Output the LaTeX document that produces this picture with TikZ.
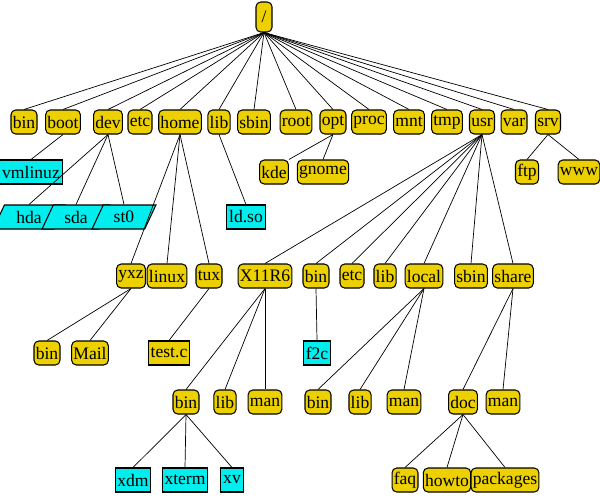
\documentclass[tikz,border=0pt]{standalone}
\usepackage{fontspec}
\setmainfont{Liberation Serif}
\usetikzlibrary{shapes.geometric, positioning}
\tikzset{
    dir/.style={rectangle, rounded corners=4pt, draw=black, line width=0.9pt, fill=dirfill, minimum height=0.72cm, inner xsep=1.5pt, inner ysep=0pt, font=\fontsize{15}{15}\selectfont},
    file/.style={rectangle, draw=black, line width=0.9pt, fill=filefill, minimum height=0.72cm, inner xsep=2pt, inner ysep=0pt, font=\fontsize{15}{15}\selectfont},
    dev/.style={trapezium, trapezium left angle=65, trapezium right angle=115, draw=black, line width=0.9pt, fill=filefill, minimum height=0.72cm, inner xsep=0pt, inner ysep=0pt, font=\fontsize{15}{15}\selectfont},
    edge/.style={draw=black, line width=0.6pt}
}
\definecolor{dirfill}{RGB}{236,208,0}
\definecolor{filefill}{RGB}{0,238,238}
\begin{document}
\begin{tikzpicture}[x=0.03cm, y=-0.03cm]
    \useasboundingbox (0,0) rectangle (600,496);
    \node (root) [dir, minimum height=0.9cm, minimum width=0.48cm] at (264,17) {/};
    % first level
    \node (bin) [dir] at (24,122) {bin};
    \node (boot) [dir] at (63,122) {boot};
    \node (dev) [dir] at (108,122) {dev};
    \node (etc) [dir] at (140,122) {etc};
    \node (home) [dir] at (180,122) {home};
    \node (lib) [dir] at (219,122) {lib};
    \node (sbin) [dir] at (254,122) {sbin};
    \node (rt) [dir] at (296,122) {root};
    \node (opt) [dir] at (333,122) {opt};
    \node (proc) [dir] at (369,122) {proc};
    \node (mnt) [dir] at (409,122) {mnt};
    \node (tmp) [dir] at (447,122) {tmp};
    \node (usr) [dir] at (482,122) {usr};
    \node (var) [dir] at (514,122) {var};
    \node (srv) [dir] at (548,122) {srv};
    \foreach \n in {bin, boot, dev, etc, home, lib, sbin, rt, opt, proc, mnt, tmp, usr, var, srv}
        \draw [edge] (root.south) -- (\n.north);
    % below first level
    \node (vmlinuz) [file] at (31,172) {vmlinuz};
    \node (kde) [dir] at (274,172) {kde};
    \node (gnome) [dir] at (323,172) {gnome};
    \node (ftp) [dir] at (527,172) {ftp};
    \node (www) [dir] at (579,172) {www};
    \node (hda) [dev] at (29,217) {hda};
    \node (sda) [dev] at (76,217) {sda};
    \node (st0) [dev] at (124,217) {st0};
    \node (ldso) [file] at (246,217) {ld.so};
    \draw [edge] (boot.south) -- (vmlinuz.north);
    \draw [edge] (opt.south) -- (kde.north east);
    \draw [edge] (opt.south) -- (gnome.north);
    \draw [edge] (srv.south) -- (ftp.north);
    \draw [edge] (srv.south) -- (www.north);
    \foreach \n in {hda, sda, st0}
        \draw [edge] (dev.south) -- (\n.north);
    \draw [edge] (lib.south) -- (ldso.north);
    % home and usr
    \node (yxz) [dir] at (131,276) {yxz};
    \node (linux) [dir] at (167,276) {linux};
    \node (tux) [dir] at (209,276) {tux};
    \node (x11) [dir] at (265,276) {X11R6};
    \node (ubin) [dir] at (316,276) {bin};
    \node (uetc) [dir] at (352,276) {etc};
    \node (ulib) [dir] at (385,276) {lib};
    \node (local) [dir] at (424,276) {local};
    \node (usbin) [dir] at (471,276) {sbin};
    \node (share) [dir] at (513,276) {share};
    \foreach \n in {yxz, linux, tux}
        \draw [edge] (home.south) -- (\n.north);
    \foreach \n in {x11, ubin, uetc, ulib, local, usbin, share}
        \draw [edge] (usr.south) -- (\n.north);
    \node (ybin) [dir] at (47,353) {bin};
    \node (mail) [dir] at (90,353) {Mail};
    \node (testc) [rectangle, draw=black, line width=0.9pt, fill=dirfill, minimum height=0.72cm, inner xsep=2pt, inner ysep=0pt, font=\fontsize{15}{15}\selectfont] at (169,353) {test.c};
    \node (f2c) [file] at (317,353) {f2c};
    \draw [edge] (yxz.south) -- (ybin.north);
    \draw [edge] (yxz.south) -- (mail.north);
    \draw [edge] (tux.south) -- (testc.north);
    \draw [edge] (ubin.south) -- (f2c.north);
    \node (xbin) [dir] at (186,402) {bin};
    \node (xlib) [dir] at (225,402) {lib};
    \node (xman) [dir] at (265,402) {man};
    \node (lbin) [dir] at (318,402) {bin};
    \node (llib) [dir] at (360,402) {lib};
    \node (lman) [dir] at (404,402) {man};
    \node (doc) [dir] at (463,402) {doc};
    \node (sman) [dir] at (503,402) {man};
    \foreach \n in {xbin, xlib, xman}
        \draw [edge] (x11.south) -- (\n.north);
    \foreach \n in {lbin, llib, lman}
        \draw [edge] (local.south) -- (\n.north);
    \draw [edge] (share.south) -- (doc.north);
    \draw [edge] (share.south) -- (sman.north);
    \node (xdm) [file] at (133,480) {xdm};
    \node (xterm) [file] at (185,480) {xterm};
    \node (xv) [file] at (232,480) {xv};
    \node (faq) [dir] at (405,480) {faq};
    \node (howto) [dir] at (447,480) {howto};
    \node (packages) [dir] at (505,480) {packages};
    \foreach \n in {xdm, xterm, xv}
        \draw [edge] (xbin.south) -- (\n.north);
    \foreach \n in {faq, howto, packages}
        \draw [edge] (doc.south) -- (\n.north);
\end{tikzpicture}
\end{document}
